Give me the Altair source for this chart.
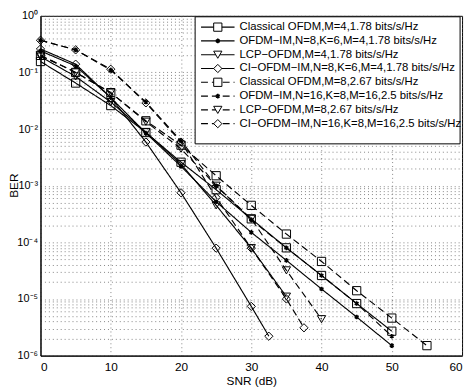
import altair as alt
import pandas as pd

# ---- data ----
names = [
    "Classical OFDM,M=4,1.78 bits/s/Hz",
    "OFDM−IM,N=8,K=6,M=4,1.78 bits/s/Hz",
    "LCP−OFDM,M=4,1.78 bits/s/Hz",
    "CI−OFDM−IM,N=8,K=6,M=4,1.78 bits/s/Hz",
    "Classical OFDM,M=8,2.67 bits/s/Hz",
    "OFDM−IM,N=16,K=8,M=16,2.5 bits/s/Hz",
    "LCP−OFDM,M=8,2.67 bits/s/Hz",
    "CI−OFDM−IM,N=16,K=8,M=16,2.5 bits/s/Hz",
]

snr_cls4 = [0, 5, 10, 15, 20, 25, 30, 35, 40, 45, 50]
ber_cls4 = [0.156, 0.065, 0.026, 0.0087, 0.0026, 8.5e-4, 2.6e-4, 8.0e-5, 2.6e-5, 8.3e-6, 2.7e-6]

snr_im4 = [0, 5, 10, 15, 20, 25, 30, 35, 40, 45, 50]
ber_im4 = [0.24, 0.13, 0.036, 0.0085, 0.0022, 5.2e-4, 1.5e-4, 4.8e-5, 1.5e-5, 4.8e-6, 1.5e-6]

snr_lcp4 = [0, 5, 10, 15, 20, 25, 30, 35]
ber_lcp4 = [0.19, 0.085, 0.030, 0.0088, 0.0024, 4.5e-4, 7.9e-5, 1.1e-5]

snr_ci4 = [0, 5, 10, 15, 20, 25, 30, 32.5]
ber_ci4 = [0.26, 0.14, 0.036, 0.0059, 7.5e-4, 7.9e-5, 7.4e-6, 2.2e-6]

snr_cls8 = [0, 5, 10, 15, 20, 25, 30, 35, 40, 45, 50, 55]
ber_cls8 = [0.20, 0.10, 0.044, 0.014, 0.0052, 1.5e-3, 4.5e-4, 1.4e-4, 4.6e-5, 1.4e-5, 4.6e-6, 1.5e-6]

snr_im16 = [0, 5, 10, 15, 20, 25, 30, 35, 40, 45, 50]
ber_im16 = [0.37, 0.25, 0.11, 0.030, 0.0062, 1.0e-3, 2.5e-4, 8.0e-5, 2.6e-5, 8.3e-6, 2.2e-6]

snr_lcp8 = [0, 5, 10, 15, 20, 25, 30, 35, 40]
ber_lcp8 = [0.20, 0.10, 0.044, 0.0135, 0.0045, 1.0e-3, 2.6e-4, 3.2e-5, 4.4e-6]

snr_ci16 = [0, 5, 10, 15, 20, 25, 30, 35, 37.5]
ber_ci16 = [0.37, 0.25, 0.114, 0.029, 0.0059, 6.2e-4, 7.9e-5, 1.0e-5, 3.1e-6]

x_ticks = [0, 10, 20, 30, 40, 50, 60]
y_decades = [1e-6, 1e-5, 1e-4, 1e-3, 1e-2, 1e-1, 1]

# ---- styles ----
STAR = "M0,-1L0,1M-0.87,-0.5L0.87,0.5M-0.87,0.5L0.87,-0.5"
shape_range = ["square", STAR, "triangle-down", "diamond"] * 2
dash_range = [[1, 0]] * 4 + [[7, 4]] * 4
FONT = "Liberation Sans"

all_series = [
    (snr_cls4, ber_cls4), (snr_im4, ber_im4), (snr_lcp4, ber_lcp4), (snr_ci4, ber_ci4),
    (snr_cls8, ber_cls8), (snr_im16, ber_im16), (snr_lcp8, ber_lcp8), (snr_ci16, ber_ci16),
]
rows = []
for name, (snr, ber) in zip(names, all_series):
    for s, b in zip(snr, ber):
        rows.append({"series": name, "snr": s, "ber": b})
df = pd.DataFrame(rows)

y_vals = []
for d in y_decades[:-1]:
    for k in range(1, 10):
        y_vals.append(round(d * k, 12))
y_vals.append(1)

e = "round(log(datum.value)/LN10)"
sup = {0: "10⁰", -1: "10⁻¹", -2: "10⁻²", -3: "10⁻³", -4: "10⁻⁴", -5: "10⁻⁵", -6: "10⁻⁶"}
expr = "''"
for k in range(-6, 1):
    expr = f"{e} == {k} ? '{sup[k]}' : ({expr})"
label_expr = f"abs(log(datum.value)/LN10 - {e}) > 0.001 ? '' : ({expr})"

x_enc = alt.X(
    "snr:Q",
    scale=alt.Scale(domain=[0, 60], nice=False),
    axis=alt.Axis(values=x_ticks, title="SNR (dB)", grid=True, ticks=False,
                  labelPadding=6, titlePadding=3),
)
y_enc = alt.Y(
    "ber:Q",
    scale=alt.Scale(type="log", domain=[1e-6, 1], nice=False),
    axis=alt.Axis(values=y_vals, labelExpr=label_expr, title="BER", grid=True,
                  ticks=False, labelOverlap=False, labelPadding=3, labelFontSize=11,
                  titleX=-32, titleY=172, titleAngle=270, titleBaseline="top",
                  titleAlign="center"),
)

lines = alt.Chart(df).mark_line(color="black", strokeWidth=1.15).encode(
    x=x_enc, y=y_enc, detail="series:N",
    strokeDash=alt.StrokeDash("series:N", scale=alt.Scale(domain=names, range=dash_range), legend=None),
)

point_names = [n for i, n in enumerate(names) if i % 4 != 1]
star_names = [n for i, n in enumerate(names) if i % 4 == 1]

points = alt.Chart(df).mark_point(color="black", filled=False, strokeWidth=1, size=70, opacity=1).encode(
    x=x_enc, y=y_enc,
    shape=alt.Shape("series:N", scale=alt.Scale(domain=names, range=shape_range), legend=None),
).transform_filter(alt.FieldOneOfPredicate(field="series", oneOf=point_names))

stars = alt.Chart(df).mark_point(color="black", filled=False, strokeWidth=1.6, size=22, shape=STAR, opacity=1).encode(
    x=x_enc, y=y_enc,
).transform_filter(alt.FieldOneOfPredicate(field="series", oneOf=star_names))

# ---- legend drawn inside the plot (top-right) ----
one = pd.DataFrame({"a": [0]})
legend_layers = [
    alt.Chart(one).mark_rect(fill="white", stroke="black", strokeWidth=1).encode(
        x=alt.value(157), x2=alt.value(426), y=alt.value(1), y2=alt.value(130))
]
for i, name in enumerate(names):
    yy = 11.5 + 14 * i
    legend_layers.append(
        alt.Chart(one).mark_rule(color="black", strokeWidth=1.15, strokeDash=dash_range[i]).encode(
            x=alt.value(163), x2=alt.value(197), y=alt.value(yy)))
    if i % 4 == 1:
        legend_layers.append(
            alt.Chart(one).mark_point(color="black", filled=False, strokeWidth=1.6, size=22,
                                      shape=STAR, opacity=1).encode(x=alt.value(180), y=alt.value(yy)))
    else:
        legend_layers.append(
            alt.Chart(one).mark_point(color="black", fill="white", filled=True, stroke="black",
                                      strokeWidth=1, size=70, shape=shape_range[i], opacity=1).encode(
                x=alt.value(180), y=alt.value(yy)))
    legend_layers.append(
        alt.Chart(one).mark_text(text=name, align="left", baseline="middle", font=FONT,
                                 fontSize=11.5, color="black").encode(x=alt.value(202), y=alt.value(yy)))

chart = alt.layer(lines, points, stars, *legend_layers).properties(
    width=428, height=345,
    autosize=alt.AutoSizeParams(type="none"),
    padding={"left": 33, "top": 5, "right": 4, "bottom": 33},
).configure_view(stroke="black", strokeWidth=1).configure_axis(
    labelFont=FONT, titleFont=FONT, labelFontSize=12, titleFontSize=12,
    labelColor="black", titleColor="black", titleFontWeight="normal",
    domainColor="black", gridColor="#555", gridDash=[1, 3], gridWidth=0.8, gridOpacity=0.9,
)

chart.save("out.html", embed_options={"renderer": "svg", "actions": False})
